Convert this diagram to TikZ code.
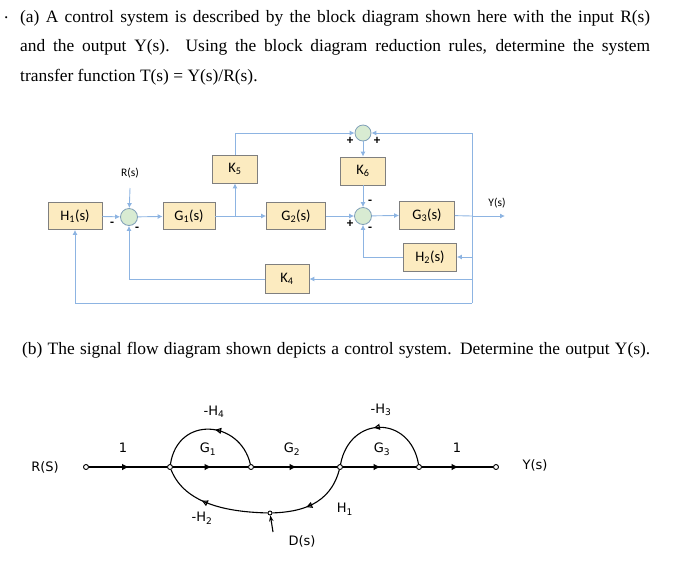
\documentclass[tikz,border=0pt]{standalone}
\usepackage{fontspec}
\setmainfont{Liberation Serif}
\newfontfamily\calfnt{Carlito}
\usetikzlibrary{arrows.meta,decorations.markings}
\definecolor{ln}{HTML}{8DB4E2}
\definecolor{bx}{HTML}{FCEBC0}
\definecolor{bxd}{HTML}{7F7F7F}
\definecolor{cf}{HTML}{D8EBD2}
\definecolor{cd}{HTML}{7F9FB8}
\tikzset{
 blk/.style={draw=bxd,fill=bx,line width=0.8pt,font=\calfnt\fontsize{14.5}{14}\selectfont,inner sep=0pt},
 sum/.style={circle,draw=cd,fill=cf,line width=0.8pt,minimum size=17pt,inner sep=0pt},
 sig/.style={ln,line width=0.9pt},
 arr/.style={sig,-{Latex[length=5pt,width=5pt]}},
 sg/.style={font=\calfnt\bfseries\fontsize{13}{13}\selectfont,inner sep=0pt},
 lbl/.style={font=\calfnt\fontsize{11.5}{11}\selectfont,inner sep=0pt},
 hd/.style={anchor=west,inner sep=0pt,font=\fontsize{17.4}{17}\selectfont},
 sf/.style={line width=1.1pt,black},
 nd/.style={circle,draw,line width=0.9pt,fill=white,minimum size=5pt,inner sep=0pt},
 hw/.style={font=\fontspec{DejaVu Sans}\fontsize{13}{13}\selectfont,inner sep=0pt},
 tri/.style={decoration={markings,mark=at position #1 with {\arrow{Triangle[open,length=6pt,width=6pt]}}},postaction=decorate},
}
\begin{document}
\begin{tikzpicture}[x=1pt,y=-1pt]
\useasboundingbox (0,0) rectangle (700,571);
% header
\node[hd] (d) at (4,18) {.};
\node[hd] (l1) at (20,18) {\makebox[630pt][s]{(a) A control system is described by the block diagram shown here with the input R(s)}};
\node[hd] (l2) at (20,47) {\makebox[630pt][s]{and the output Y(s). Using the block diagram reduction rules, determine the system}};
\node[hd] (l3) at (20,77) {transfer function T(s) = Y(s)/R(s).};
\node[hd] (lb) at (22,350) {\makebox[628pt][s]{(b) The signal flow diagram shown depicts a control system. Determine the output Y(s).}};
% block diagram
\node[blk,minimum width=54pt,minimum height=27pt] (H1) at (75,216) {H\textsubscript{1}(s)};
\node[sum] (S1) at (129,217) {};
\node[blk,minimum width=52pt,minimum height=27pt] (G1) at (189,216) {G\textsubscript{1}(s)};
\node[blk,minimum width=45pt,minimum height=28pt] (K5) at (235,169) {K\textsubscript{5}};
\node[blk,minimum width=59pt,minimum height=27pt] (G2) at (296,216) {G\textsubscript{2}(s)};
\node[blk,minimum width=44pt,minimum height=29pt] (K4) at (287,279) {K\textsubscript{4}};
\node[sum,minimum size=16pt] (S3) at (363,133) {};
\node[blk,minimum width=45pt,minimum height=28pt] (K6) at (363,171) {K\textsubscript{6}};
\node[sum] (S2) at (363,216) {};
\node[blk,minimum width=55pt,minimum height=28pt] (G3) at (427,215) {G\textsubscript{3}(s)};
\node[blk,minimum width=53pt,minimum height=28pt] (H2) at (430,257) {H\textsubscript{2}(s)};
\node[lbl] (R) at (130,173) {R(s)};
\node[lbl] (Y) at (497,203) {Y(s)};
\coordinate (Rt) at (130,188);
\coordinate (b1) at (235,216);
\coordinate (b2) at (472,216);
\coordinate (yo) at (505,216);
\coordinate (tr) at (472,133);
\coordinate (k4r) at (472,279);
\coordinate (h1r) at (472,303);
\coordinate (h1l) at (75,303);
\coordinate (h2r) at (472,257);
\draw[arr] (Rt) -- (S1);
\draw[arr] (H1) -- (S1);
\draw[arr] (S1) -- (G1);
\draw[sig] (G1) -- (b1);
\draw[arr] (b1) -- (G2);
\draw[arr] (b1) -- (K5);
\draw[arr] (K5.north) |- (S3);
\draw[arr] (tr) -- (S3);
\draw[arr] (S3) -- (K6);
\draw[arr] (K6) -- (S2);
\draw[arr] (G2) -- (S2);
\draw[arr] (S2) -- (G3);
\draw[sig] (G3) -- (b2);
\draw[arr] (b2) -- (yo);
\draw[sig] (tr) -- (h1r);
\draw[arr] (h2r) -- (H2);
\draw[arr] (H2) -| (S2);
\draw[arr] (k4r) -- (K4);
\draw[arr] (K4) -| (S1);
\draw[sig] (h1r) -- (h1l);
\draw[arr] (h1l) -- (H1);
% signs
\node[sg] (s1a) at (112,224) {-};
\node[sg] (s1b) at (137,229) {-};
\node[sg] (s3a) at (350,141) {+};
\node[sg] (s3b) at (377,141) {+};
\node[sg] (s2a) at (350,224) {+};
\node[sg] (s2b) at (370,202) {-};
\node[sg] (s2c) at (370,229) {-};
% signal flow
\node[nd] (nR) at (86,467) {};
\node[nd] (n1) at (170,467) {};
\node[nd] (n2) at (251,467) {};
\node[nd] (n3) at (340,467) {};
\node[nd] (n4) at (419,467) {};
\node[nd] (nY) at (496,467) {};
\node[nd,minimum size=4pt] (nD) at (270,513) {};
\coordinate (dS) at (273,532);
\draw[sf,tri=0.5] (nR) -- (n1);
\draw[sf,tri=0.5] (n1) -- (n2);
\draw[sf,tri=0.5] (n2) -- (n3);
\draw[sf,tri=0.5] (n3) -- (n4);
\draw[sf,tri=0.5] (n4) -- (nY);
\draw[sf,tri=0.45] (n2) .. controls (240,420) and (178,415) .. (n1);
\draw[sf,tri=0.55] (n4) .. controls (410,415) and (350,415) .. (n3);
\draw[sf,tri=0.6] (n3) .. controls (330,505) and (300,512) .. (nD);
\draw[sf,tri=0.6] (nD) .. controls (230,512) and (185,505) .. (n1);
\draw[sf,-{Stealth[length=6pt]}] (dS) -- (nD);
\node[hw] (tR) at (45,467) {R(S)};
\node[hw] (tY) at (535,465) {Y(s)};
\node[hw] (t1a) at (123,448) {1};
\node[hw] (t1b) at (457,448) {1};
\node[hw] (tG1) at (208,449) {G\textsubscript{1}};
\node[hw] (tG2) at (292,449) {G\textsubscript{2}};
\node[hw] (tG3) at (382,449) {G\textsubscript{3}};
\node[hw] (tH4) at (214,412) {-H\textsubscript{4}};
\node[hw] (tH3) at (381,410) {-H\textsubscript{3}};
\node[hw] (tH2) at (202,518) {-H\textsubscript{2}};
\node[hw] (tH1) at (345,509) {H\textsubscript{1}};
\node[hw] (tD) at (302,541) {D(s)};
\end{tikzpicture}
\end{document}
